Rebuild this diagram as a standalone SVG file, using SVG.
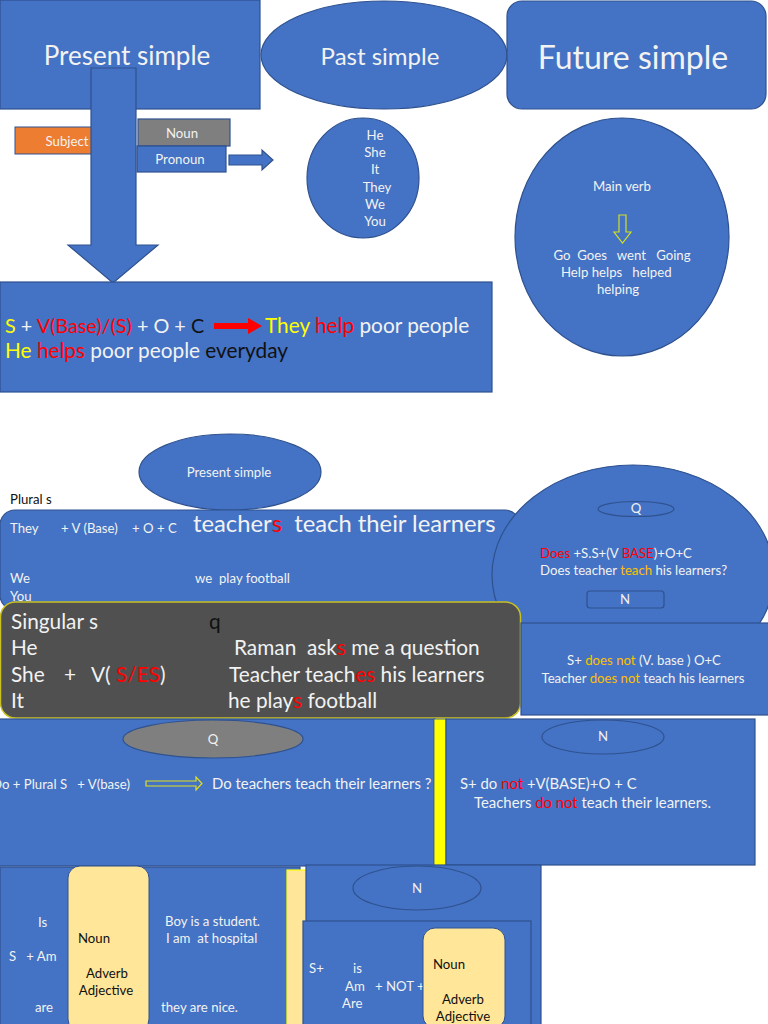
<svg xmlns="http://www.w3.org/2000/svg" width="768" height="1024" viewBox="0 0 768 1024">
<style>
text{font-family:Lato,"Open Sans","Liberation Sans",sans-serif;fill:#F2F2F2}
.b{fill:#4472C4;stroke:#2F528F;stroke-width:1.2}
.g{fill:#7F7F7F;stroke:#2F528F;stroke-width:1.2}
.pe{fill:#FFE699;stroke:#2F528F;stroke-width:1}
.k{fill:#111}
.r{fill:#FF0000}
.y{fill:#FFFF00}
.o{fill:#FFC000}
.s12{font-size:13.2px}
.s14{font-size:14.9px}
.s19{font-size:20.8px}
.m{text-anchor:middle}
</style>
<rect width="768" height="1024" fill="#fff"/>

<g id="present-simple"><rect class="b" x="0" y="0" width="260" height="109"/><text x="127" y="65" class="m" font-size="26">Present simple</text></g>
<g id="past-simple"><ellipse class="b" cx="384" cy="55" rx="123" ry="54"/><text x="380" y="65" class="m" font-size="24">Past simple</text></g>
<g id="future-simple"><rect class="b" x="507" y="1" width="259" height="108" rx="15"/><text x="633" y="69" class="m" font-size="32">Future simple</text></g>

<g id="subject"><rect x="15" y="127" width="85" height="27" fill="#ED7D31" stroke="#2F528F" stroke-width="1"/><text x="67" y="146" class="m s12">Subject</text></g>
<g id="down-arrow"><path class="b" d="M91 68H136V245H158L113 283L68 245H91Z"/></g>
<g id="noun"><rect class="g" x="138" y="119" width="92" height="27"/><text x="182" y="138" class="m s12">Noun</text></g>
<g id="pronoun"><rect class="b" x="137" y="146" width="89" height="26"/><text x="180" y="164" class="m s12">Pronoun</text></g>
<g id="right-arrow"><path class="b" d="M229 155H262V150L273 160L262 170V165H229Z"/></g>
<g id="pronouns"><ellipse class="b" cx="363" cy="178" rx="56" ry="60"/>
<text class="m s12" x="375"><tspan x="375" y="140">He</tspan><tspan x="375" y="157">She</tspan><tspan x="375" y="174">It</tspan><tspan x="377" y="192">They</tspan><tspan x="375" y="209">We</tspan><tspan x="375" y="226">You</tspan></text></g>

<g id="main-verb"><ellipse class="b" cx="622" cy="237" rx="107" ry="119"/>
<text x="622" y="191" class="m s12">Main verb</text>
<path d="M619 215H626V232H631L622.5 243L614 232H619Z" fill="none" stroke="#D4E020" stroke-width="1.2"/>
<text x="622" y="260" class="m s12" xml:space="preserve">Go  Goes   went   Going</text>
<text x="561" y="277" class="s12" xml:space="preserve">Help helps   helped</text>
<text x="597" y="294" class="s12">helping</text></g>

<g id="formula"><rect class="b" x="0" y="282" width="492" height="110"/>
<text x="5" y="333" font-size="19.8" xml:space="preserve"><tspan class="y">S</tspan> + <tspan class="r">V(Base)/(S)</tspan> + O + <tspan class="k">C</tspan></text>
<path d="M214 323H248V318L262 326L248 334V329H214Z" fill="#FF0000"/>
<text x="265" y="333" class="s19" xml:space="preserve"><tspan class="y">They</tspan> <tspan class="r">help</tspan> poor people</text>
<text x="5" y="358" class="s19" xml:space="preserve"><tspan class="y">He</tspan> <tspan class="r">helps</tspan> poor people <tspan class="k">everyday</tspan></text></g>

<g id="present-simple-2"><ellipse class="b" cx="230" cy="472" rx="91" ry="38"/><text x="229" y="477" class="m s12">Present simple</text></g>
<text x="10" y="504" class="s12 k">Plural s</text>

<g id="plural"><rect class="b" x="0" y="510" width="520" height="100" rx="15"/>
<text x="10" y="533" class="s12">They</text><text x="61" y="533" class="s12">+ V (Base)</text><text x="132" y="533" class="s12">+ O + C</text>
<text x="193" y="532" font-size="23.8" xml:space="preserve">teacher<tspan class="r">s</tspan>  teach their learners</text>
<text x="10" y="583" class="s12">We</text><text x="195" y="583" class="s12" xml:space="preserve">we  play football</text>
<text x="10" y="601" class="s12">You</text></g>

<g id="question-circle"><ellipse class="b" cx="633" cy="575" rx="141" ry="110"/>
<ellipse cx="636" cy="509" rx="38" ry="7.5" fill="none" stroke="#2F528F" stroke-width="1.2"/>
<text x="636" y="513" class="m s12">Q</text>
<text x="540" y="558" class="s12" xml:space="preserve"><tspan class="r">Does</tspan> +S.S+(V <tspan class="r">BASE</tspan>)+O+C</text>
<text x="540" y="575" class="s12" xml:space="preserve">Does teacher <tspan class="o">teach</tspan> his learners?</text>
<rect x="587" y="591" width="77" height="17" rx="3" fill="none" stroke="#2F528F" stroke-width="1.2"/>
<text x="625" y="604" class="m s12">N</text></g>

<g id="singular"><rect x="0.5" y="602" width="520" height="116" rx="15" fill="#505050" stroke="#C8C020" stroke-width="1.5"/>
<text x="11" y="629" class="s19">Singular s</text><text x="209" y="629" class="s19 k">q</text>
<text x="11" y="655" class="s19">He</text><text x="234" y="655" class="s19" xml:space="preserve">Raman  ask<tspan class="r">s</tspan> me a question</text>
<text x="11" y="682" class="s19">She</text><text x="64" y="682" class="s19">+</text><text x="91" y="682" class="s19" xml:space="preserve">V( <tspan class="r">S/ES</tspan>)</text>
<text x="229" y="682" class="s19">Teacher teach<tspan class="r">es</tspan> his learners</text>
<text x="11" y="708" class="s19">It</text><text x="228" y="708" class="s19">he play<tspan class="r">s</tspan> football</text></g>

<g id="negative-singular"><rect class="b" x="521" y="623" width="250" height="92"/>
<text x="644" y="665" class="m s12" xml:space="preserve">S+ <tspan class="o">does not</tspan> (V. base ) O+C</text>
<text x="643" y="683" class="m s12" xml:space="preserve">Teacher <tspan class="o">does not</tspan> teach his learners</text></g>

<g id="question-plural"><rect class="b" x="-2" y="719" width="437" height="147"/>
<ellipse class="g" cx="213" cy="739" rx="90" ry="19"/><text x="213" y="744" class="m s12">Q</text>
<text x="-8" y="789" class="s12" xml:space="preserve">Do + Plural S   + V(base)</text>
<path d="M146 781H196V777L202 783.5L196 790V786H146Z" fill="none" stroke="#E0E020" stroke-width="1.2"/>
<text x="212" y="789" class="s14">Do teachers teach their learners ?</text></g>
<rect id="yellow-bar" x="434" y="719" width="12" height="147" fill="#FFFF00" stroke="#2F528F" stroke-width="0.8"/>

<g id="negative-plural"><rect class="b" x="446" y="719" width="309" height="146"/>
<ellipse cx="603" cy="737" rx="61" ry="17" fill="none" stroke="#2F528F" stroke-width="1.2"/><text x="603" y="741" class="m s12">N</text>
<text x="460" y="789" class="s14" xml:space="preserve">S+ do <tspan class="r">not</tspan> +V(BASE)+O + C</text>
<text x="474" y="808" class="s14" xml:space="preserve">Teachers <tspan class="r">do not</tspan> teach their learners.</text></g>

<g id="be-verb"><rect class="b" x="0" y="867" width="300" height="160"/>
<rect class="pe" x="68" y="866" width="81" height="165" rx="12"/>
<text x="38" y="927" class="s12">Is</text><text x="9" y="961" class="s12" xml:space="preserve">S   + Am</text><text x="35" y="1012" class="s12">are</text>
<text x="78" y="943" class="s12 k">Noun</text><text x="107" y="978" class="m s12 k">Adverb</text><text x="106" y="995" class="m s12 k">Adjective</text>
<text x="165" y="926" class="s12">Boy is a student.</text><text x="166" y="943" class="s12" xml:space="preserve">I am  at hospital</text><text x="161" y="1012" class="s12">they are nice.</text>
<rect x="287" y="870" width="25" height="160" fill="#FFE699" stroke="#FFFF00" stroke-width="1.2"/></g>

<g id="be-negative"><rect class="b" x="306" y="865" width="235" height="165"/>
<ellipse cx="417" cy="888" rx="64" ry="22" fill="none" stroke="#2F528F" stroke-width="1.2"/><text x="417" y="893" class="m s12">N</text>
<rect class="b" x="303" y="921" width="228" height="110"/>
<text x="309" y="973" class="s12">S+</text><text x="353" y="973" class="s12">is</text><text x="345" y="991" class="s12">Am</text><text x="375" y="991" class="s12">+ NOT +</text><text x="342" y="1008" class="s12">Are</text>
<rect class="pe" x="423" y="928" width="82" height="100" rx="12"/>
<text x="433" y="969" class="s12 k">Noun</text><text x="463" y="1004" class="m s12 k">Adverb</text><text x="463" y="1021" class="m s12 k">Adjective</text></g>
</svg>
